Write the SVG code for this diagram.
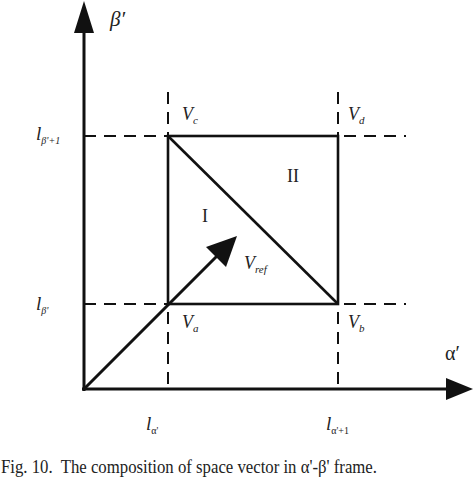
<svg xmlns="http://www.w3.org/2000/svg" width="474" height="481" viewBox="0 0 474 481">
<style>
.ax{stroke:#111;stroke-width:3;fill:none}
.sq{stroke:#111;stroke-width:2.6;fill:none}
.da{stroke:#111;stroke-width:2;fill:none;stroke-dasharray:12,8}
.t{font-family:"Liberation Serif","Times New Roman",serif;fill:#222}
.i{font-style:italic}
</style>
<g id="connectors">
<line class="da" x1="168" y1="92" x2="168" y2="389"/>
<line class="da" x1="338" y1="92" x2="338" y2="389"/>
<line class="da" x1="84" y1="136" x2="406" y2="136"/>
<line class="da" x1="84" y1="304" x2="406" y2="304"/>
<rect class="sq" x="168" y="136" width="170" height="168"/>
<line class="sq" x1="168" y1="136" x2="338" y2="304"/>
<line class="ax" x1="84" y1="391" x2="84" y2="30"/>
<path d="M74,33 L84,1 L94,33 Z" fill="#111"/>
<line class="ax" x1="82" y1="389" x2="448" y2="389"/>
<path d="M446,378 L473,389 L446,400 Z" fill="#111"/>
<line class="ax" x1="84" y1="389" x2="222" y2="251"/>
<path d="M237,236 L226,267 L206,247 Z" fill="#111"/>
</g>
<g id="labels">
<text class="t i" x="110" y="26" font-size="21">β′</text>
<text class="t" x="445" y="360" font-size="20">α′</text>
<text class="t i" x="182" y="120" font-size="18">V<tspan font-size="11" dy="4">c</tspan></text>
<text class="t i" x="348" y="120" font-size="18">V<tspan font-size="11" dy="4">d</tspan></text>
<text class="t i" x="182" y="328" font-size="18">V<tspan font-size="11" dy="4">a</tspan></text>
<text class="t i" x="348" y="328" font-size="18">V<tspan font-size="11" dy="4">b</tspan></text>
<text class="t i" x="244" y="269" font-size="18">V<tspan font-size="11" dy="4">ref</tspan></text>
<text class="t" x="202" y="222" font-size="18">I</text>
<text class="t" x="287" y="182" font-size="18">II</text>
<text class="t i" x="36" y="140" font-size="19">l<tspan font-size="10" dy="4">β'+1</tspan></text>
<text class="t i" x="36" y="310" font-size="19">l<tspan font-size="10" dy="4">β'</tspan></text>
<text class="t i" x="146" y="430" font-size="19">l<tspan font-size="10" dy="4" font-style="normal">α'</tspan></text>
<text class="t i" x="326" y="430" font-size="19">l<tspan font-size="10" dy="4" font-style="normal">α'+1</tspan></text>
<text class="t" x="1" y="473" font-size="18" textLength="376" lengthAdjust="spacingAndGlyphs">Fig. 10.&#160; The composition of space vector in α'-β' frame.</text>
</g>
</svg>
